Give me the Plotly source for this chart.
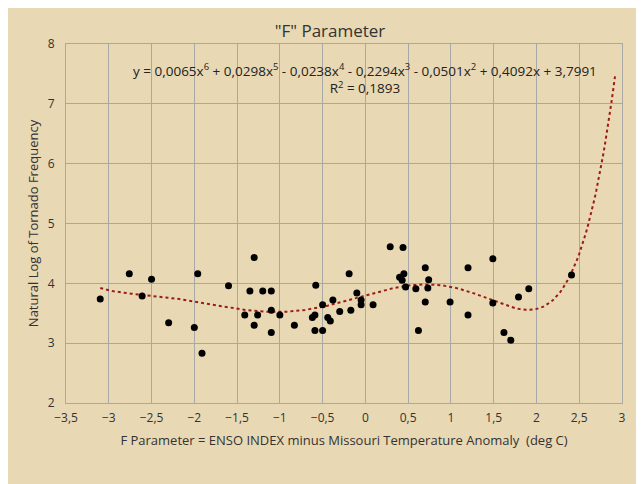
import numpy as np
import plotly.graph_objects as go

# F parameter vs natural log of tornado frequency
f_param = [-3.10, -2.76, -2.50, -2.61, -2.30, -2.00, -1.96, -1.91, -1.60, -1.30,
           -1.35, -1.20, -1.10, -1.41, -1.26, -1.10, -1.30, -1.10, -1.00, -0.83,
           -0.58, -0.62, -0.59, -0.59, -0.50, -0.50, -0.44, -0.41, -0.38, -0.30,
           -0.19, -0.17, -0.10, -0.05, -0.05, 0.09, 0.29, 0.44, 0.40, 0.45,
           0.43, 0.47, 0.59, 0.70, 0.74, 0.73, 0.70, 0.62, 0.99, 1.20,
           1.20, 1.49, 1.49, 1.62, 1.70, 1.79, 1.91, 2.41]
ln_freq = [3.74, 4.16, 4.07, 3.79, 3.34, 3.26, 4.16, 2.83, 3.96, 4.43,
           3.87, 3.87, 3.87, 3.47, 3.47, 3.55, 3.30, 3.18, 3.47, 3.30,
           3.97, 3.43, 3.47, 3.21, 3.21, 3.64, 3.43, 3.37, 3.72, 3.53,
           4.16, 3.55, 3.84, 3.72, 3.64, 3.64, 4.61, 4.60, 4.10, 4.16,
           4.05, 3.94, 3.91, 4.26, 4.06, 3.92, 3.69, 3.21, 3.69, 4.26,
           3.47, 4.41, 3.67, 3.18, 3.05, 3.77, 3.91, 4.14]

# 6th order trendline coefficients as printed on the chart (highest power first)
trend_coefs = [0.0065, 0.0298, -0.0238, -0.2294, -0.0501, 0.4092, 3.7991]
trend_x = np.linspace(-3.1, 2.92, 300)
trend_y = np.polyval(trend_coefs, trend_x)

fig = go.Figure()
fig.add_trace(go.Scatter(
    x=trend_x, y=trend_y, mode="lines",
    line=dict(color="#9b1c14", width=2, dash="dot"),
    hoverinfo="skip",
))
fig.add_trace(go.Scatter(
    x=f_param, y=ln_freq, mode="markers",
    marker=dict(color="black", size=7),
))

fig.add_annotation(
    x=0.0, y=7.42, xref="x", yref="y", showarrow=False,
    text="y = 0,0065x<sup>6</sup> + 0,0298x<sup>5</sup> - 0,0238x<sup>4</sup> - 0,2294x<sup>3</sup>"
         " - 0,0501x<sup>2</sup> + 0,4092x + 3,7991<br>R<sup>2</sup> = 0,1893",
    font=dict(size=13.5, color="#222"),
)

fig.update_layout(
    width=644, height=484,
    separators=",.",
    showlegend=False,
    paper_bgcolor="#e9d8b4",
    plot_bgcolor="#e9d8b4",
    font=dict(family="Open Sans, Liberation Sans, sans-serif", color="#333", size=12),
    title=dict(text='"F" Parameter', x=0.5, xanchor="center", y=0.965,
               font=dict(size=17, color="#333")),
    margin=dict(l=58, r=30, t=36, b=89),
)
fig.update_xaxes(
    range=[-3.5, 3], dtick=0.5, tickformat=".1~f",
    showgrid=True, gridcolor="#a8a8a8", gridwidth=1,
    zeroline=False, showline=True, linecolor="#a8a8a8", mirror=True,
    ticks="outside", ticklen=4, tickcolor="#e9d8b4",
    title=dict(text="F Parameter = ENSO INDEX minus Missouri Temperature Anomaly  (deg C)",
               font=dict(size=13), standoff=10),
)
fig.update_yaxes(
    range=[2, 8], dtick=1,
    showgrid=True, gridcolor="#a8a8a8", gridwidth=1,
    zeroline=False, showline=True, linecolor="#a8a8a8", mirror=True,
    ticks="outside", ticklen=8, tickcolor="#e9d8b4",
    title=dict(text="Natural Log of Tornado Frequency", font=dict(size=13), standoff=6),
)

fig.write_html("out.html")
